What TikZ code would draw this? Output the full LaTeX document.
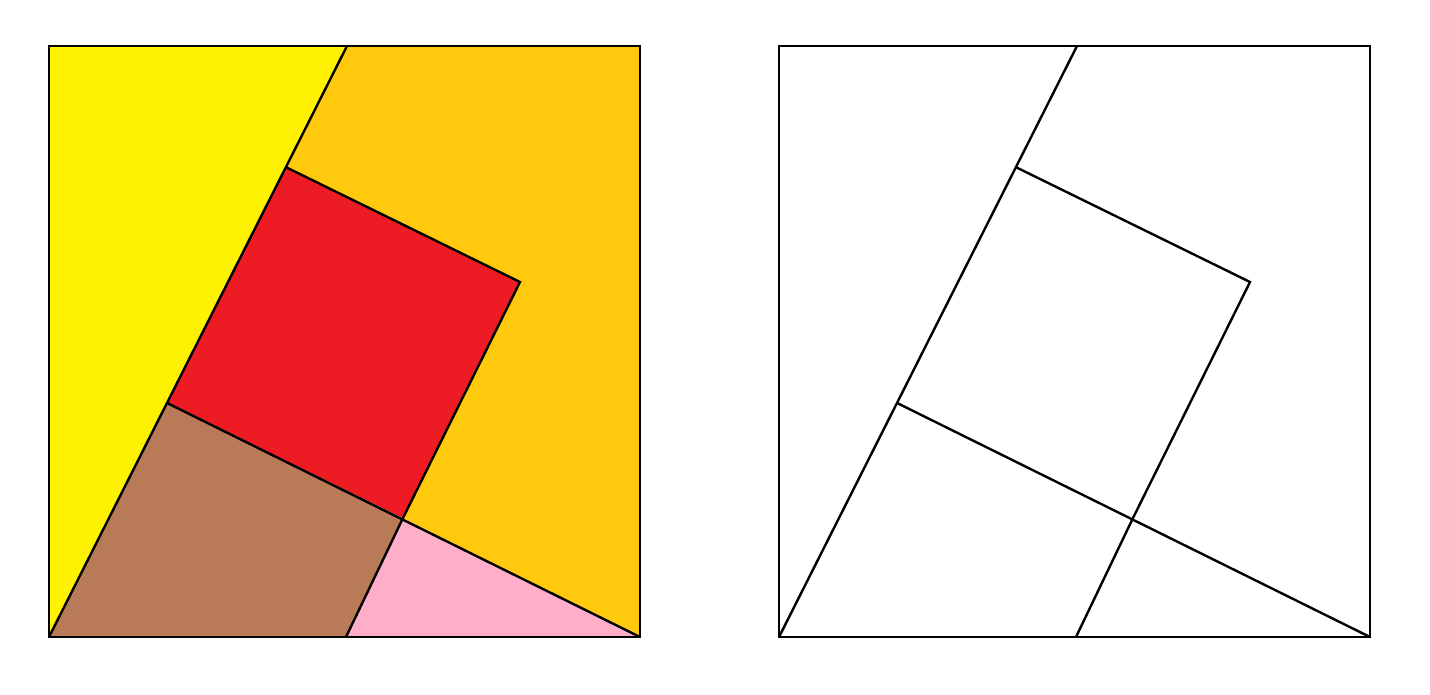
\documentclass[tikz,border=0pt]{standalone}
\usetikzlibrary{calc}
\definecolor{cyel}{HTML}{FFF200}
\definecolor{corg}{HTML}{FFC90E}
\definecolor{cred}{HTML}{ED1C24}
\definecolor{cbrn}{HTML}{B97A57}
\definecolor{cpnk}{HTML}{FFAEC9}
\tikzset{edge/.style={draw=black,line width=2.4pt,line join=miter}}
\begin{document}
\begin{tikzpicture}[x=1pt,y=-1pt]
\useasboundingbox (0,0) rectangle (1430,694);
% left figure
\begin{scope}
\coordinate (A) at (49,46);
\coordinate (B) at (640,46);
\coordinate (C) at (640,637);
\coordinate (D) at (49,637);
\coordinate (T) at (347,46);
\coordinate (P) at ($(D)!0.795!(T)$);
\coordinate (Q) at (520,282);
\coordinate (R) at (403,518);
\coordinate (S) at ($(D)!0.396!(T)$);
\coordinate (M) at (346,637);
\fill[corg] (A) rectangle (C);
\fill[cyel] (A) -- (T) -- (D) -- cycle;
\fill[cred] (P) -- (Q) -- (R) -- (S) -- cycle;
\fill[cbrn] (S) -- (R) -- (M) -- (D) -- cycle;
\fill[cpnk] (R) -- (C) -- (M) -- cycle;
\draw[edge] (A) rectangle (C);
\draw[edge] (D) -- (T);
\draw[edge] (P) -- (Q) -- (R) -- (M);
\draw[edge] (S) -- (C);
\end{scope}
% right figure
\begin{scope}[xshift=730pt]
\coordinate (A2) at (49,46);
\coordinate (B2) at (640,46);
\coordinate (C2) at (640,637);
\coordinate (D2) at (49,637);
\coordinate (T2) at (347,46);
\coordinate (P2) at ($(D2)!0.795!(T2)$);
\coordinate (Q2) at (520,282);
\coordinate (R2) at (403,518);
\coordinate (S2) at ($(D2)!0.396!(T2)$);
\coordinate (M2) at (346,637);
\draw[edge] (A2) rectangle (C2);
\draw[edge] (D2) -- (T2);
\draw[edge] (P2) -- (Q2) -- (R2) -- (M2);
\draw[edge] (S2) -- (C2);
\end{scope}
\end{tikzpicture}
\end{document}
